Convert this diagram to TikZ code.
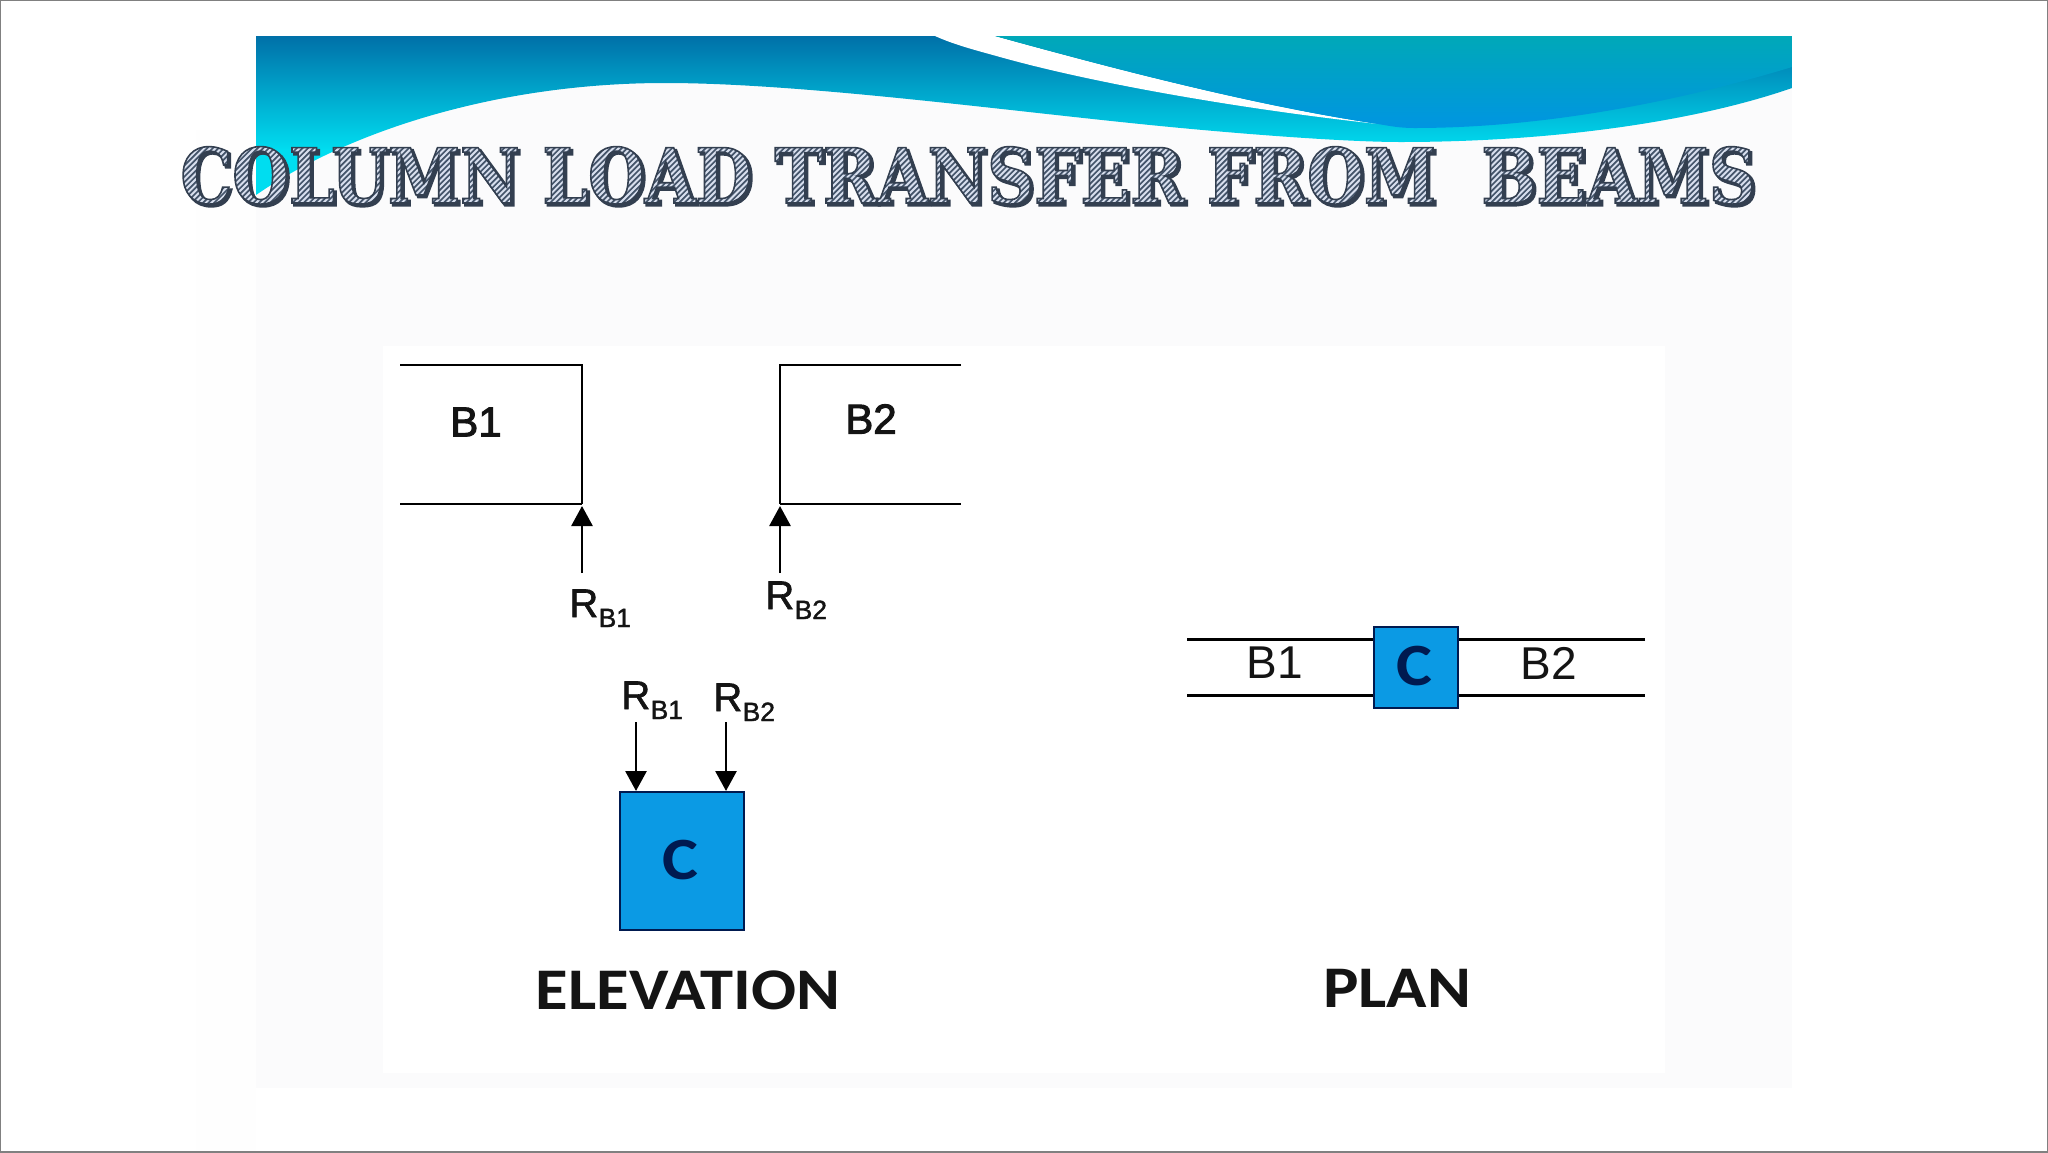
\documentclass[tikz,border=0pt]{standalone}
\usepackage{fontspec}
\setmainfont{Liberation Sans}
\newfontfamily\titlefont[FakeStretch=0.857]{DejaVu Serif}
\newfontfamily\calfont[FakeStretch=1.13]{Carlito}
\newfontface\labmid[FakeBold=1.5]{Liberation Sans}
\newfontface\labbold[FakeBold=2.5]{Liberation Sans}
\usetikzlibrary{arrows.meta}
\definecolor{bandtop}{HTML}{0070A8}
\definecolor{bandlow}{HTML}{00DDF0}
\definecolor{tealtop}{HTML}{00A8B8}
\definecolor{teallow}{HTML}{0095E2}
\definecolor{colblue}{HTML}{0B9AE4}
\definecolor{navy}{HTML}{001A50}
\definecolor{titledark}{HTML}{333F50}
\definecolor{hatchlight}{HTML}{D8DFEE}
\definecolor{hatchdark}{HTML}{44546A}
\definecolor{palepage}{HTML}{FBFBFC}
\definecolor{outerpage}{HTML}{FEFEFE}
\newcommand\TitleText{\titlefont\bfseries\fontsize{38pt}{38pt}\selectfont COLUMN LOAD TRANSFER FROM\ \ BEAMS}
\newcommand\RLabel[1]{R\kern0.2pt\raisebox{-5pt}{\fontsize{13.2pt}{13.2pt}\selectfont #1}}
\tikzset{
 beamline/.style={draw=black,line width=1.4pt},
 planline/.style={draw=black,line width=1.5pt},
 force/.style={draw=black,line width=1.4pt,-{Triangle[width=10.5pt,length=10pt]},shorten >=0pt},
 colbox/.style={draw=navy,line width=0.9pt,fill=colblue,inner sep=0pt},
 beamlab/.style={font=\labbold\fontsize{21pt}{21pt}\selectfont,text=black!92,inner sep=0pt},
 planlab/.style={font=\fontsize{23pt}{23pt}\selectfont,text=black!92,inner sep=0pt},
 forcelab/.style={font=\labmid\fontsize{20pt}{20pt}\selectfont,text=black!92,inner sep=0pt,anchor=base west},
 collab/.style={font=\calfont\bfseries\fontsize{30pt}{30pt}\selectfont,text=navy,inner sep=0pt},
 viewlab/.style={font=\calfont\bfseries\fontsize{29.5pt}{29.5pt}\selectfont,text=black!92,inner sep=0pt,anchor=base},
}
\begin{document}
\begin{tikzpicture}[x=0.5pt,y=-0.5pt]
\useasboundingbox (0,0) rectangle (2048,1152);
% page
\fill[white] (0,0) rectangle (2048,1152);
\fill[outerpage] (196,130) rectangle (256,1152);
\fill[palepage] (256,36) rectangle (1792,1088);
\fill[white] (383,346) rectangle (1665,1073);
\draw[black!50,line width=1pt] (0,0) rectangle (2048,1152);
% band
\begin{scope}
\clip (256,36) -- (1792,36) -- (1792,88) .. controls (1700,120) and (1560,142) .. (1400,142) .. controls (1350,142) and (1250,135) .. (1150,125) .. controls (1000,110) and (800,83) .. (665,83) .. controls (500,83) and (350,130) .. (256,195) -- cycle;
\shade[top color=bandtop,bottom color=bandlow] (256,36) rectangle (1792,150);
\fill[bandlow] (256,149) rectangle (1792,200);
\end{scope}
\fill[white] (935,36) -- (995,36) .. controls (1100,65) and (1250,105) .. (1378,124) .. controls (1250,110) and (1100,85) .. (1000,57) .. controls (975,50) and (955,45) .. (935,36) -- cycle;
\begin{scope}
\clip (995,36) -- (1792,36) -- (1792,67) .. controls (1700,95) and (1560,128) .. (1414,128) .. controls (1400,128) and (1390,126) .. (1378,124) .. controls (1250,105) and (1100,65) .. (995,36) -- cycle;
\shade[top color=tealtop,bottom color=teallow] (995,36) rectangle (1792,129);
\end{scope}
% title
\node[anchor=base west,inner sep=0pt] (title) at (180,203) {\hbox{%
 \rlap{\kern1.2pt\lower1.2pt\hbox{\textcolor{titledark}{\special{pdf:code q 2 Tr 1.2 w}\TitleText\special{pdf:code Q}}}}%
 \special{pdf:code q 7 Tr}\rlap{\TitleText}\special{pdf:code 0 Tr}%
 \begin{tikzpicture}[overlay,x=1pt,y=1pt]
  \fill[hatchlight] (-5,-8) rectangle (810,36);
  \foreach \i in {0,...,300} {\draw[hatchdark,line width=0.85pt] ({\i*2.8-50},-8) -- ++(44,44);}
 \end{tikzpicture}%
 \special{pdf:code Q}%
 \rlap{\textcolor{titledark}{\special{pdf:code q 1 Tr 0.8 w}\TitleText\special{pdf:code Q}}}%
 \phantom{\TitleText}}};
% elevation beams
\coordinate (b1tl) at (400,365); \coordinate (b1tr) at (582,365);
\coordinate (b1br) at (582,504); \coordinate (b1bl) at (400,504);
\coordinate (b2tl) at (780,365); \coordinate (b2tr) at (961,365);
\coordinate (b2bl) at (780,504); \coordinate (b2br) at (961,504);
\draw[beamline] (b1tl) -- (b1tr) -- (b1br);
\draw[beamline] (b1bl) -- (b1br);
\draw[beamline] (b2tr) -- (b2tl) -- (b2bl);
\draw[beamline] (b2bl) -- (b2br);
\node[beamlab] (lb1) at (476,422) {B1};
\node[beamlab] (lb2) at (871,419) {B2};
% reactions
\coordinate (ra) at (582,573); \coordinate (rb) at (780,573);
\draw[force,shorten >=1pt] (ra) -- (b1br);
\draw[force,shorten >=1pt] (rb) -- (b2bl);
\node[forcelab] (rb1up) at (569,617) {\RLabel{B1}};
\node[forcelab] (rb2up) at (765,609) {\RLabel{B2}};
% column elevation
\node[colbox,minimum width=62pt,minimum height=69pt,anchor=north west] (colE) at (619,791) {};
\node[collab] (colEl) at (680,860) {C};
\coordinate (fa) at (636,722); \coordinate (fb) at (726,722);
\coordinate (faEnd) at (636,791); \coordinate (fbEnd) at (726,791);
\draw[force] (fa) -- (faEnd);
\draw[force] (fb) -- (fbEnd);
\node[forcelab] (rb1dn) at (621,709) {\RLabel{B1}};
\node[forcelab] (rb2dn) at (713,711) {\RLabel{B2}};
\node[viewlab] (elev) at (688,1009) {ELEVATION};
% plan
\node[colbox,minimum width=42pt,minimum height=40.5pt,anchor=north west] (colP) at (1373,626) {};
\node[collab] (colPl) at (1414,666) {C};
\coordinate (pl1) at (1187,639); \coordinate (pl2) at (1187,695);
\coordinate (pr1) at (1645,639); \coordinate (pr2) at (1645,695);
\draw[planline] (pl1) -- (pl1 -| colP.west);
\draw[planline] (pl2) -- (pl2 -| colP.west);
\draw[planline] (pr1) -- (pr1 -| colP.east);
\draw[planline] (pr2) -- (pr2 -| colP.east);
\node[planlab] (plb1) at (1275,663) {B1};
\node[planlab] (plb2) at (1549,663) {B2};
\node[viewlab] (plan) at (1397,1007) {PLAN};
\end{tikzpicture}
\end{document}
